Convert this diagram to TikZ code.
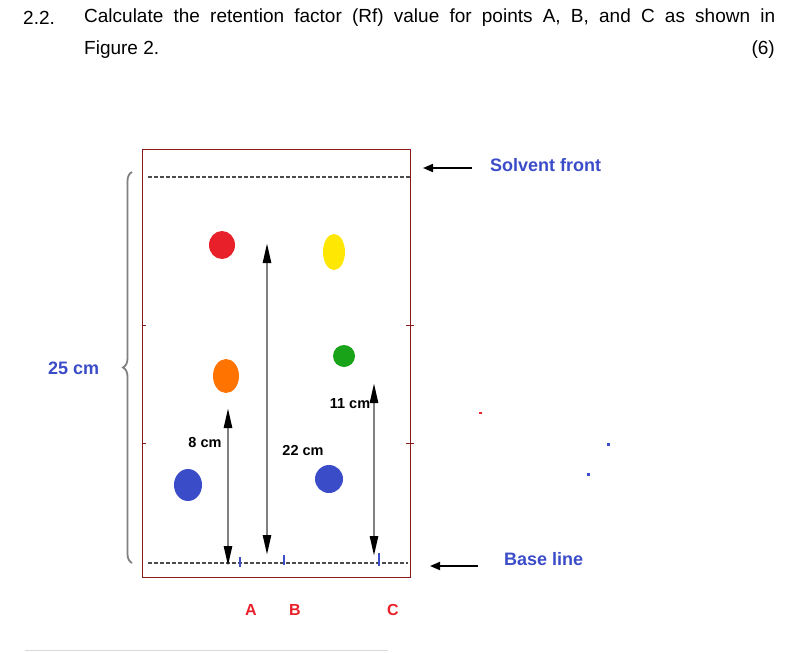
\documentclass[tikz,border=0pt]{standalone}
\usepackage{fontspec}
\setmainfont{Liberation Sans}
\usetikzlibrary{arrows.meta,decorations.pathreplacing}
\definecolor{frame}{HTML}{8B1A1A}
\definecolor{lblue}{HTML}{3B4CC8}
\definecolor{dred}{HTML}{E8202A}
\tikzset{
  txt/.style={font=\fontsize{19pt}{22pt}\selectfont, inner sep=0pt},
  lbl/.style={font=\bfseries\fontsize{18pt}{20pt}\selectfont, text=lblue, inner sep=0pt, anchor=west},
  small/.style={font=\bfseries\fontsize{14.5pt}{16pt}\selectfont, inner sep=0pt},
  letter/.style={font=\bfseries\fontsize{16pt}{18pt}\selectfont, text=dred, inner sep=0pt},
  meas/.style={draw=gray, line width=2.5pt, {Triangle[black,length=20pt,width=8pt]}-{Triangle[black,length=20pt,width=8pt]}},
  pointer/.style={draw=black, line width=1.8pt, -{Triangle[length=10pt,width=8pt]}},
  tick/.style={draw=lblue, line width=2.4pt},
  dashline/.style={draw=black!70, dash pattern=on 4pt off 2pt, line width=1.1pt}
}
\begin{document}
\begin{tikzpicture}[x=1pt,y=-1pt]
\useasboundingbox (0,0) rectangle (790,653);
\node[txt,anchor=west] (n) at (23,18) {2.2.};
\node[txt,anchor=west] (t1) at (84,18) {\makebox[691pt][s]{Calculate the retention factor (Rf) value for points A, B, and C as shown in}};
\node[txt,anchor=west] (t2) at (84,50) {Figure 2.};
\node[txt,anchor=east] (t3) at (775,50) {(6)};
\draw[frame, line width=1pt] (142,149) rectangle (410,577);
\foreach \y in {325,443}{\draw[frame] (142,\y)--(146,\y); \draw[frame] (406,\y)--(414,\y);}
\coordinate (sf1) at (148,177); \coordinate (sf2) at (410,177);
\draw[dashline] (sf1)--(sf2);
\coordinate (bl1) at (148,563); \coordinate (bl2) at (408,563);
\draw[dashline] (bl1)--(bl2);
\node[lbl] (sf) at (490,165) {Solvent front};
\coordinate (sfa) at (472,168); \coordinate (sfb) at (423,168);
\draw[pointer] (sfa)--(sfb);
\node[lbl] (bl) at (504,559) {Base line};
\coordinate (bla) at (478,566); \coordinate (blb) at (430,566);
\draw[pointer] (bla)--(blb);
\coordinate (br1) at (132,563); \coordinate (br2) at (132,172);
\draw[decorate,decoration={brace,amplitude=9pt}, gray, line width=1.8pt] (br1)--(br2);
\node[lbl] (l25) at (48,368) {25 cm};
\fill[dred] (222,245) ellipse (13 and 14);
\fill[yellow!90!orange] (334,252) ellipse (11 and 18);
\fill[green!60!black!90] (344,356) ellipse (11 and 11);
\fill[orange!90!red] (226,376) ellipse (13 and 17);
\fill[lblue] (188,485) ellipse (14 and 16);
\fill[lblue] (329,479) ellipse (14 and 14);
\coordinate (a1) at (228,408); \coordinate (a2) at (228,566);
\draw[meas] (a1)--(a2);
\coordinate (b1) at (267,243); \coordinate (b2) at (267,555);
\draw[meas] (b1)--(b2);
\coordinate (c1) at (374,383); \coordinate (c2) at (374,556);
\draw[meas] (c1)--(c2);
\node[small] (l8) at (205,443) {8 cm};
\node[small] (l22) at (303,451) {22 cm};
\node[small] (l11) at (350,404) {11 cm};
\draw[tick] (240,557)--(240,567);
\draw[tick] (284,555)--(284,565);
\draw[tick] (379,553)--(379,566);
\node[letter] (A) at (251,610) {A};
\node[letter] (B) at (295,610) {B};
\node[letter] (C) at (393,610) {C};
\fill[dred] (479,412) rectangle (482,414);
\fill[lblue] (607,443) rectangle (610,446);
\fill[lblue] (587,473) rectangle (590,476);
\draw[gray!30] (25,650)--(388,650);
\end{tikzpicture}
\end{document}
